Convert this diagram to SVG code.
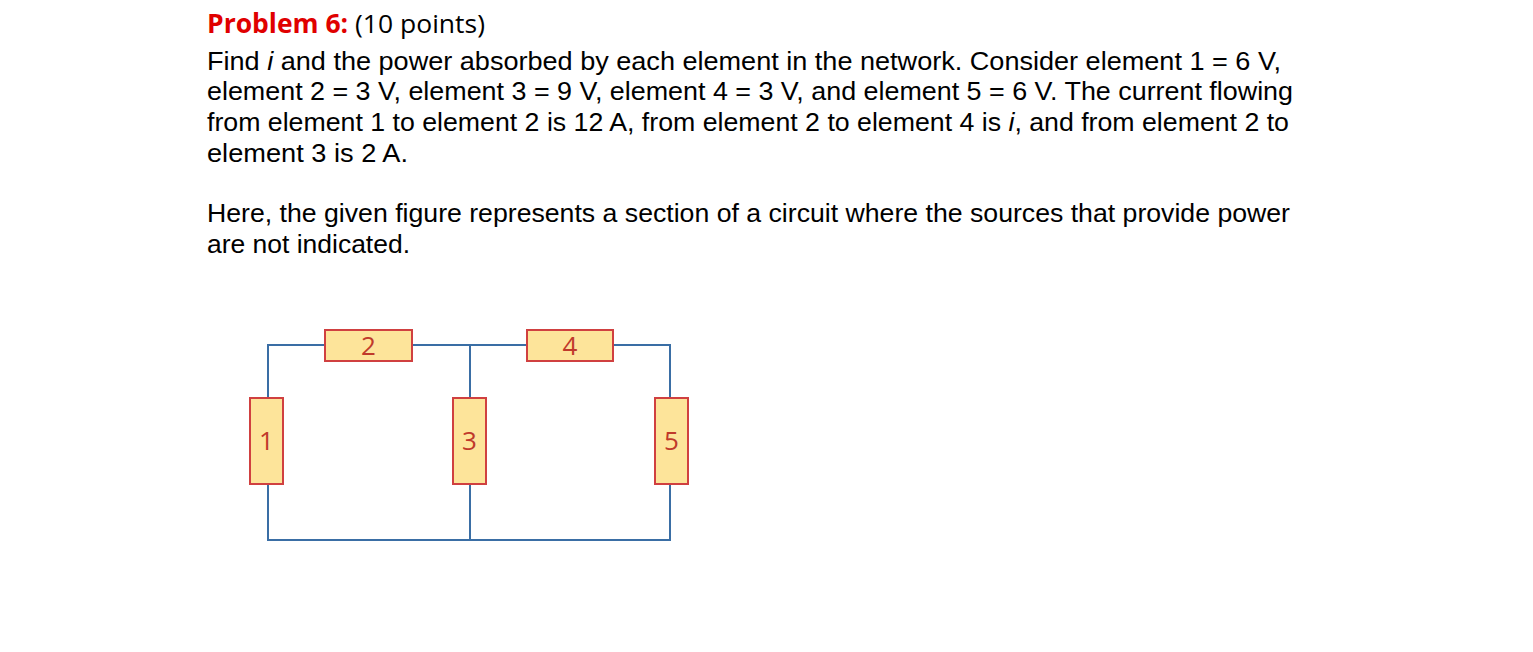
<svg xmlns="http://www.w3.org/2000/svg" width="1533" height="652" viewBox="0 0 1533 652">
<style>
.t{font-family:"Liberation Sans",Arial,sans-serif;font-size:25px;fill:#000}
.w{fill:none;stroke:#3a6ea5;stroke-width:2}
.e{fill:#fde49a;stroke:#d04040;stroke-width:2}
.n{font-family:"Open Sans","Liberation Sans",sans-serif;font-size:26px;fill:#c0392b;text-anchor:middle}
</style>
<rect width="1533" height="652" fill="#fff"/>
<text x="207" y="33" font-family="'Open Sans','Liberation Sans',sans-serif" font-size="26" textLength="278" lengthAdjust="spacingAndGlyphs"><tspan fill="#e00000" font-weight="bold">Problem 6:</tspan> (10 points)</text>
<text class="t" x="207" y="70" textLength="1074" lengthAdjust="spacingAndGlyphs">Find <tspan font-style="italic">i</tspan> and the power absorbed by each element in the network. Consider element 1 = 6 V,</text>
<text class="t" x="207" y="100" textLength="1086" lengthAdjust="spacingAndGlyphs">element 2 = 3 V, element 3 = 9 V, element 4 = 3 V, and element 5 = 6 V. The current flowing</text>
<text class="t" x="207" y="131" textLength="1082" lengthAdjust="spacingAndGlyphs">from element 1 to element 2 is 12 A, from element 2 to element 4 is <tspan font-style="italic">i</tspan>, and from element 2 to</text>
<text class="t" x="207" y="162" textLength="201" lengthAdjust="spacingAndGlyphs">element 3 is 2 A.</text>
<text class="t" x="207" y="222" textLength="1083" lengthAdjust="spacingAndGlyphs">Here, the given figure represents a section of a circuit where the sources that provide power</text>
<text class="t" x="207" y="253" textLength="203" lengthAdjust="spacingAndGlyphs">are not indicated.</text>
<g id="wires">
<path class="w" d="M268 398V345H325M412 345H527M613 345H670V398M268 484V540H670V484M470 345V398M470 484V540"/>
</g>
<g id="e1"><rect class="e" x="250" y="398" width="33" height="86"/><text class="n" x="266.5" y="450">1</text></g>
<g id="e2"><rect class="e" x="325" y="330" width="87" height="31"/><text class="n" x="368.5" y="355">2</text></g>
<g id="e3"><rect class="e" x="453" y="398" width="33" height="86"/><text class="n" x="469.5" y="450">3</text></g>
<g id="e4"><rect class="e" x="527" y="330" width="86" height="31"/><text class="n" x="570" y="355">4</text></g>
<g id="e5"><rect class="e" x="655" y="398" width="33" height="86"/><text class="n" x="671.5" y="450">5</text></g>
</svg>
